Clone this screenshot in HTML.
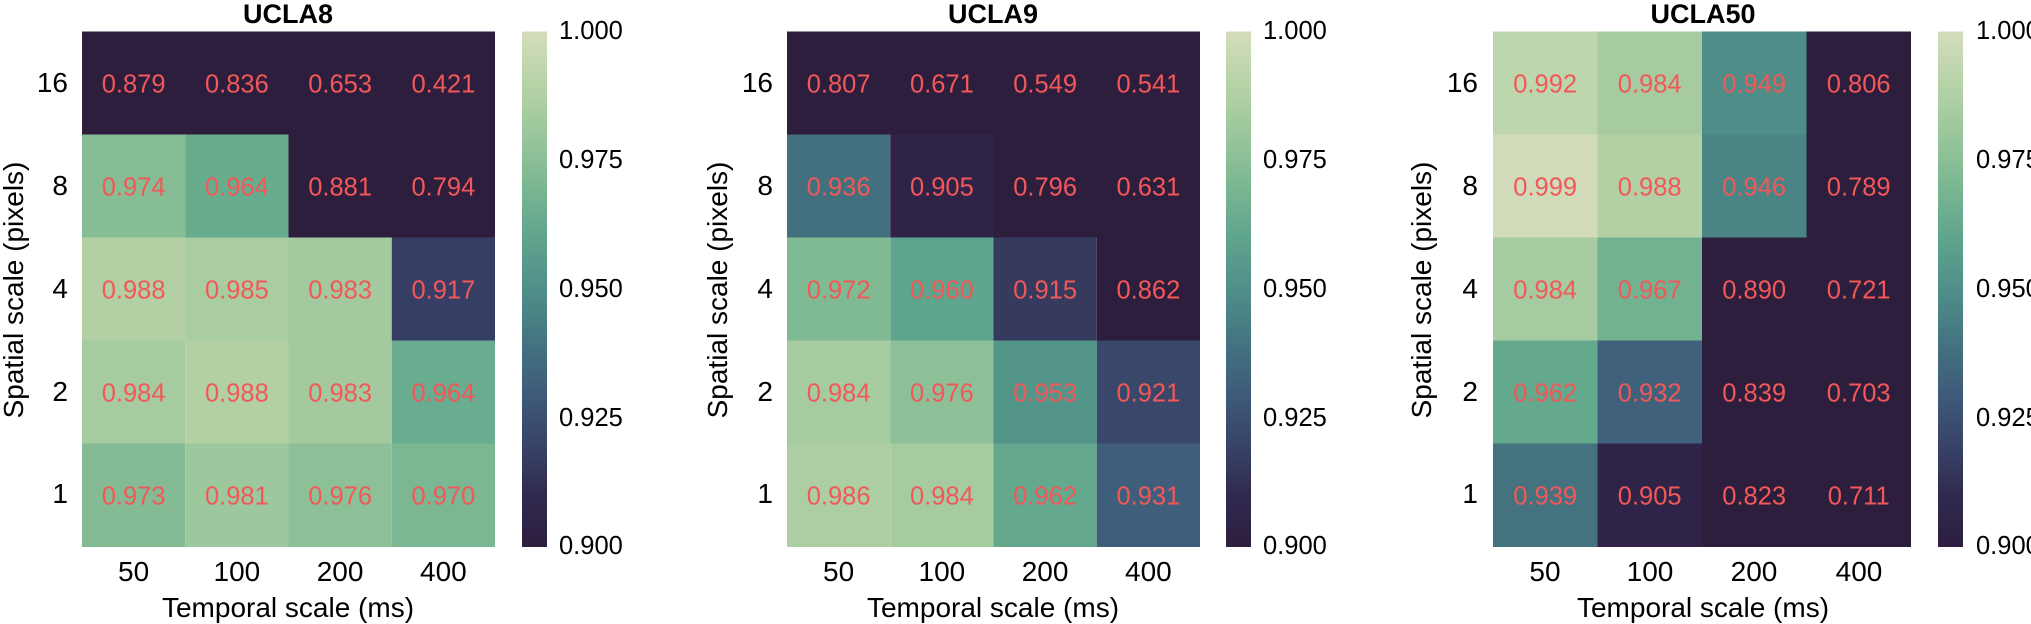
<!DOCTYPE html>
<html><head><meta charset="utf-8"><style>
html,body{margin:0;padding:0;background:#fff;}
svg{display:block;font-family:"Liberation Sans",Arial,sans-serif;}
.v{fill:#f25858;font-size:25.5px;text-anchor:middle;}
.t{fill:#000;font-size:28px;}
.c{fill:#000;font-size:25.5px;}
.ti{fill:#000;font-size:27px;font-weight:bold;text-anchor:middle;}
</style></head><body>
<svg width="2031" height="624" viewBox="0 0 2031 624" xmlns="http://www.w3.org/2000/svg">
<defs>
<linearGradient id="cb" x1="0" y1="1" x2="0" y2="0">
<stop offset="0" stop-color="#2d1e3e"/><stop offset="0.1" stop-color="#302a50"/>
<stop offset="0.2" stop-color="#384468"/><stop offset="0.3" stop-color="#3e5b7a"/>
<stop offset="0.4" stop-color="#447581"/><stop offset="0.5" stop-color="#4f8f89"/>
<stop offset="0.6" stop-color="#5fa48d"/><stop offset="0.7" stop-color="#7bb792"/>
<stop offset="0.8" stop-color="#9ac69b"/><stop offset="0.9" stop-color="#b8d3a8"/>
<stop offset="1" stop-color="#d4ddbd"/>
</linearGradient>
</defs>

<!-- Panel 1 -->
<g transform="translate(82,31.5)">
<rect x="0" y="0" width="413" height="103" fill="#2d1e3e"/>
<rect x="0" y="103" width="103.25" height="103" fill="#86bd94"/>
<rect x="103.25" y="103" width="103.25" height="103" fill="#68ac8e"/>
<rect x="206.5" y="103" width="206.5" height="103" fill="#2d1e3e"/>
<rect x="0" y="206" width="103.25" height="103" fill="#b2d0a4"/>
<rect x="103.25" y="206" width="103.25" height="103" fill="#a9cca1"/>
<rect x="206.5" y="206" width="103.25" height="103" fill="#a4c99f"/>
<rect x="309.75" y="206" width="103.25" height="103" fill="#363e66"/>
<rect x="0" y="309" width="103.25" height="103" fill="#a7cba0"/>
<rect x="103.25" y="309" width="103.25" height="103" fill="#b2d0a4"/>
<rect x="206.5" y="309" width="103.25" height="103" fill="#a4c99f"/>
<rect x="309.75" y="309" width="103.25" height="103" fill="#69ac8f"/>
<rect x="0" y="412" width="103.25" height="103.5" fill="#84bb94"/>
<rect x="103.25" y="412" width="103.25" height="103.5" fill="#9dc79c"/>
<rect x="206.5" y="412" width="103.25" height="103.5" fill="#8ec097"/>
<rect x="309.75" y="412" width="103.25" height="103.5" fill="#7bb792"/>
<text class="v" x="51.6" y="61">0.879</text><text class="v" x="154.9" y="61">0.836</text><text class="v" x="258.1" y="61">0.653</text><text class="v" x="361.4" y="61">0.421</text>
<text class="v" x="51.6" y="164">0.974</text><text class="v" x="154.9" y="164">0.964</text><text class="v" x="258.1" y="164">0.881</text><text class="v" x="361.4" y="164">0.794</text>
<text class="v" x="51.6" y="267">0.988</text><text class="v" x="154.9" y="267">0.985</text><text class="v" x="258.1" y="267">0.983</text><text class="v" x="361.4" y="267">0.917</text>
<text class="v" x="51.6" y="370">0.984</text><text class="v" x="154.9" y="370">0.988</text><text class="v" x="258.1" y="370">0.983</text><text class="v" x="361.4" y="370">0.964</text>
<text class="v" x="51.6" y="473">0.973</text><text class="v" x="154.9" y="473">0.981</text><text class="v" x="258.1" y="473">0.976</text><text class="v" x="361.4" y="473">0.970</text>
</g>
<text class="ti" x="288" y="23">UCLA8</text>
<g class="t" text-anchor="end">
<text x="68" y="92">16</text><text x="68" y="195">8</text><text x="68" y="298">4</text><text x="68" y="401">2</text><text x="68" y="503">1</text>
</g>
<g class="t" text-anchor="middle">
<text x="133.6" y="581">50</text><text x="236.9" y="581">100</text><text x="340.1" y="581">200</text><text x="443.4" y="581">400</text>
<text x="288" y="617">Temporal scale (ms)</text>
<text transform="translate(23,290) rotate(-90)">Spatial scale (pixels)</text>
</g>
<rect x="522" y="31.5" width="25" height="515.5" fill="url(#cb)"/>
<g class="c">
<text x="559" y="39">1.000</text><text x="559" y="168">0.975</text><text x="559" y="297">0.950</text><text x="559" y="426">0.925</text><text x="559" y="554">0.900</text>
</g>

<!-- Panel 2 -->
<g transform="translate(787,31.5)">
<rect x="0" y="0" width="413" height="103" fill="#2d1e3e"/>
<rect x="0" y="103" width="103.25" height="103" fill="#42707f"/>
<rect x="103.25" y="103" width="103.25" height="103" fill="#2f2447"/>
<rect x="206.5" y="103" width="206.5" height="103" fill="#2d1e3e"/>
<rect x="0" y="206" width="103.25" height="103" fill="#80ba93"/>
<rect x="103.25" y="206" width="103.25" height="103" fill="#5fa48d"/>
<rect x="206.5" y="206" width="103.25" height="103" fill="#353a5e"/>
<rect x="309.75" y="206" width="103.25" height="103" fill="#2d1e3e"/>
<rect x="0" y="309" width="103.25" height="103" fill="#a7cba0"/>
<rect x="103.25" y="309" width="103.25" height="103" fill="#8ec097"/>
<rect x="206.5" y="309" width="103.25" height="103" fill="#54958a"/>
<rect x="309.75" y="309" width="103.25" height="103" fill="#38476a"/>
<rect x="0" y="412" width="103.25" height="103.5" fill="#adcea2"/>
<rect x="103.25" y="412" width="103.25" height="103.5" fill="#a7cba0"/>
<rect x="206.5" y="412" width="103.25" height="103.5" fill="#64a88e"/>
<rect x="309.75" y="412" width="103.25" height="103.5" fill="#3f5e7b"/>
<text class="v" x="51.6" y="61">0.807</text><text class="v" x="154.9" y="61">0.671</text><text class="v" x="258.1" y="61">0.549</text><text class="v" x="361.4" y="61">0.541</text>
<text class="v" x="51.6" y="164">0.936</text><text class="v" x="154.9" y="164">0.905</text><text class="v" x="258.1" y="164">0.796</text><text class="v" x="361.4" y="164">0.631</text>
<text class="v" x="51.6" y="267">0.972</text><text class="v" x="154.9" y="267">0.960</text><text class="v" x="258.1" y="267">0.915</text><text class="v" x="361.4" y="267">0.862</text>
<text class="v" x="51.6" y="370">0.984</text><text class="v" x="154.9" y="370">0.976</text><text class="v" x="258.1" y="370">0.953</text><text class="v" x="361.4" y="370">0.921</text>
<text class="v" x="51.6" y="473">0.986</text><text class="v" x="154.9" y="473">0.984</text><text class="v" x="258.1" y="473">0.962</text><text class="v" x="361.4" y="473">0.931</text>
</g>
<text class="ti" x="993" y="23">UCLA9</text>
<g class="t" text-anchor="end">
<text x="773" y="92">16</text><text x="773" y="195">8</text><text x="773" y="298">4</text><text x="773" y="401">2</text><text x="773" y="503">1</text>
</g>
<g class="t" text-anchor="middle">
<text x="838.6" y="581">50</text><text x="941.9" y="581">100</text><text x="1045.1" y="581">200</text><text x="1148.4" y="581">400</text>
<text x="993" y="617">Temporal scale (ms)</text>
<text transform="translate(727,290) rotate(-90)">Spatial scale (pixels)</text>
</g>
<rect x="1226" y="31.5" width="25" height="515.5" fill="url(#cb)"/>
<g class="c">
<text x="1263" y="39">1.000</text><text x="1263" y="168">0.975</text><text x="1263" y="297">0.950</text><text x="1263" y="426">0.925</text><text x="1263" y="554">0.900</text>
</g>

<!-- Panel 3 -->
<g transform="translate(1493,31.5)">
<rect x="0" y="0" width="418" height="515.5" fill="#2d1e3e"/>
<rect x="0" y="0" width="104.5" height="103" fill="#bed6ad"/>
<rect x="104.5" y="0" width="104.5" height="103" fill="#a7cba0"/>
<rect x="209" y="0" width="104.5" height="103" fill="#4e8d88"/>
<rect x="0" y="103" width="104.5" height="103" fill="#d1dbba"/>
<rect x="104.5" y="103" width="104.5" height="103" fill="#b2d0a4"/>
<rect x="209" y="103" width="104.5" height="103" fill="#4a8585"/>
<rect x="0" y="206" width="104.5" height="103" fill="#a7cba0"/>
<rect x="104.5" y="206" width="104.5" height="103" fill="#72b290"/>
<rect x="0" y="309" width="104.5" height="103" fill="#64a88e"/>
<rect x="104.5" y="309" width="104.5" height="103" fill="#3f617c"/>
<rect x="0" y="412" width="104.5" height="103.5" fill="#45727f"/>
<rect x="104.5" y="412" width="104.5" height="103.5" fill="#2f2447"/>
<text class="v" x="52.2" y="61">0.992</text><text class="v" x="156.7" y="61">0.984</text><text class="v" x="261.2" y="61">0.949</text><text class="v" x="365.7" y="61">0.806</text>
<text class="v" x="52.2" y="164">0.999</text><text class="v" x="156.7" y="164">0.988</text><text class="v" x="261.2" y="164">0.946</text><text class="v" x="365.7" y="164">0.789</text>
<text class="v" x="52.2" y="267">0.984</text><text class="v" x="156.7" y="267">0.967</text><text class="v" x="261.2" y="267">0.890</text><text class="v" x="365.7" y="267">0.721</text>
<text class="v" x="52.2" y="370">0.962</text><text class="v" x="156.7" y="370">0.932</text><text class="v" x="261.2" y="370">0.839</text><text class="v" x="365.7" y="370">0.703</text>
<text class="v" x="52.2" y="473">0.939</text><text class="v" x="156.7" y="473">0.905</text><text class="v" x="261.2" y="473">0.823</text><text class="v" x="365.7" y="473">0.711</text>
</g>
<text class="ti" x="1703" y="23">UCLA50</text>
<g class="t" text-anchor="end">
<text x="1478" y="92">16</text><text x="1478" y="195">8</text><text x="1478" y="298">4</text><text x="1478" y="401">2</text><text x="1478" y="503">1</text>
</g>
<g class="t" text-anchor="middle">
<text x="1545" y="581">50</text><text x="1650" y="581">100</text><text x="1754" y="581">200</text><text x="1859" y="581">400</text>
<text x="1703" y="617">Temporal scale (ms)</text>
<text transform="translate(1431,290) rotate(-90)">Spatial scale (pixels)</text>
</g>
<rect x="1938" y="31.5" width="25" height="515.5" fill="url(#cb)"/>
<g class="c">
<text x="1976" y="39">1.000</text><text x="1976" y="168">0.975</text><text x="1976" y="297">0.950</text><text x="1976" y="426">0.925</text><text x="1976" y="554">0.900</text>
</g>
</svg>
</body></html>
